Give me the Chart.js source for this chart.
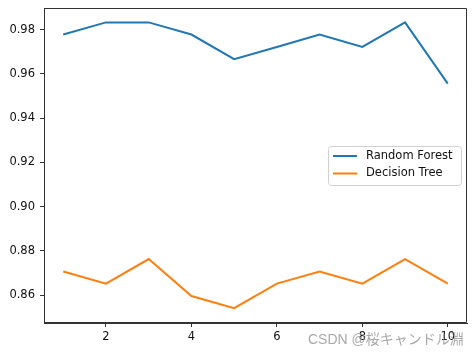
<!DOCTYPE html>
<html>
<head>
<meta charset="utf-8">
<script src="https://cdn.jsdelivr.net/npm/chart.js@4/dist/chart.umd.min.js"></script>
<style>
html,body{margin:0;padding:0;background:#fff;}
#wrap{width:474px;height:352px;position:relative;}
</style>
</head>
<body>
<div id="wrap"><canvas id="c" width="474" height="352"></canvas></div>
<script>
const xValues = [1, 2, 3, 4, 5, 6, 7, 8, 9, 10];
const randomForest = [0.9778, 0.9833, 0.9833, 0.9778, 0.9667, 0.9722, 0.9778, 0.9722, 0.9833, 0.9556];
const decisionTree = [0.8707, 0.8652, 0.8763, 0.8596, 0.8541, 0.8652, 0.8707, 0.8652, 0.8763, 0.8652];
const seriesNames = ['Random Forest', 'Decision Tree'];
const xTicks = [2, 4, 6, 8, 10];
const yTicks = [0.86, 0.88, 0.90, 0.92, 0.94, 0.96, 0.98];
const watermark = 'CSDN @桜キャンドル淵';

const FONT = '"DejaVu Sans", sans-serif';
const colors = ['#1f77b4', '#ff7f0e'];

const framePlugin = {
  id: 'frame',
  afterDraw(chart) {
    const {ctx, chartArea: a} = chart;
    ctx.save();
    ctx.strokeStyle = '#333';
    ctx.lineWidth = 1;
    const L = Math.round(a.left) + 0.5, R = Math.round(a.right) - 0.5;
    const T = Math.round(a.top) + 0.5, B = Math.round(a.bottom) - 0.5;
    ctx.beginPath();
    ctx.moveTo(L, T); ctx.lineTo(R, T); ctx.lineTo(R, B); ctx.lineTo(L, B); ctx.closePath();
    ctx.stroke();
    // legend
    const bx = 328, by = 146, bw = 133, bh = 39;
    ctx.fillStyle = 'rgba(255,255,255,0.8)';
    ctx.strokeStyle = '#d0d0d0';
    ctx.beginPath();
    ctx.roundRect(bx + 0.5, by + 0.5, bw, bh, 3);
    ctx.fill();
    ctx.stroke();
    ctx.font = '11.5px ' + FONT;
    ctx.textBaseline = 'middle';
    chart.data.datasets.forEach((ds, i) => {
      const y = by + 10 + i * 17.5;
      ctx.strokeStyle = ds.borderColor;
      ctx.lineWidth = 2;
      ctx.beginPath();
      ctx.moveTo(bx + 5, y);
      ctx.lineTo(bx + 29, y);
      ctx.stroke();
      ctx.fillStyle = '#111';
      ctx.fillText(ds.label, bx + 38, y);
    });
    // watermark
    ctx.font = '14px "Liberation Sans", "Noto Sans CJK JP", sans-serif';
    ctx.fillStyle = 'rgba(160,160,160,0.9)';
    ctx.textBaseline = 'alphabetic';
    ctx.fillText(watermark, 308, 344);
    ctx.restore();
  }
};

new Chart(document.getElementById('c'), {
  type: 'line',
  data: {
    datasets: [
      { label: seriesNames[0], data: xValues.map((x, i) => ({x, y: randomForest[i]})), borderColor: colors[0], backgroundColor: colors[0], borderWidth: 2, pointRadius: 0, tension: 0, fill: false },
      { label: seriesNames[1], data: xValues.map((x, i) => ({x, y: decisionTree[i]})), borderColor: colors[1], backgroundColor: colors[1], borderWidth: 2, pointRadius: 0, tension: 0, fill: false }
    ]
  },
  options: {
    responsive: false,
    animation: false,
    events: [],
    layout: { padding: { left: 0, top: 8, right: 7, bottom: 0 } },
    plugins: { legend: { display: false }, tooltip: { enabled: false } },
    scales: {
      x: {
        type: 'linear', min: 0.55, max: 10.45,
        afterBuildTicks: s => { s.ticks = xTicks.map(v => ({value: v})); },
        afterFit: s => { s.height = 29; s.paddingLeft = 0; s.paddingRight = 0; },
        grid: { display: true, drawOnChartArea: false, drawTicks: true, tickLength: 4, color: '#333', tickColor: '#333' },
        border: { display: true, color: '#333' },
        ticks: { color: '#111', font: { family: FONT, size: 11.5 }, padding: 3, maxRotation: 0, callback: v => String(v) }
      },
      y: {
        type: 'linear', min: 0.8474, max: 0.9898,
        afterBuildTicks: s => { s.ticks = yTicks.map(v => ({value: v})); },
        afterFit: s => { s.width = 44; s.paddingTop = 0; s.paddingBottom = 0; },
        grid: { display: true, drawOnChartArea: false, drawTicks: true, tickLength: 4, color: '#333', tickColor: '#333' },
        border: { display: true, color: '#333' },
        ticks: { color: '#111', font: { family: FONT, size: 11.5 }, padding: 5, callback: v => v.toFixed(2) }
      }
    }
  },
  plugins: [framePlugin]
});
</script>
</body>
</html>
